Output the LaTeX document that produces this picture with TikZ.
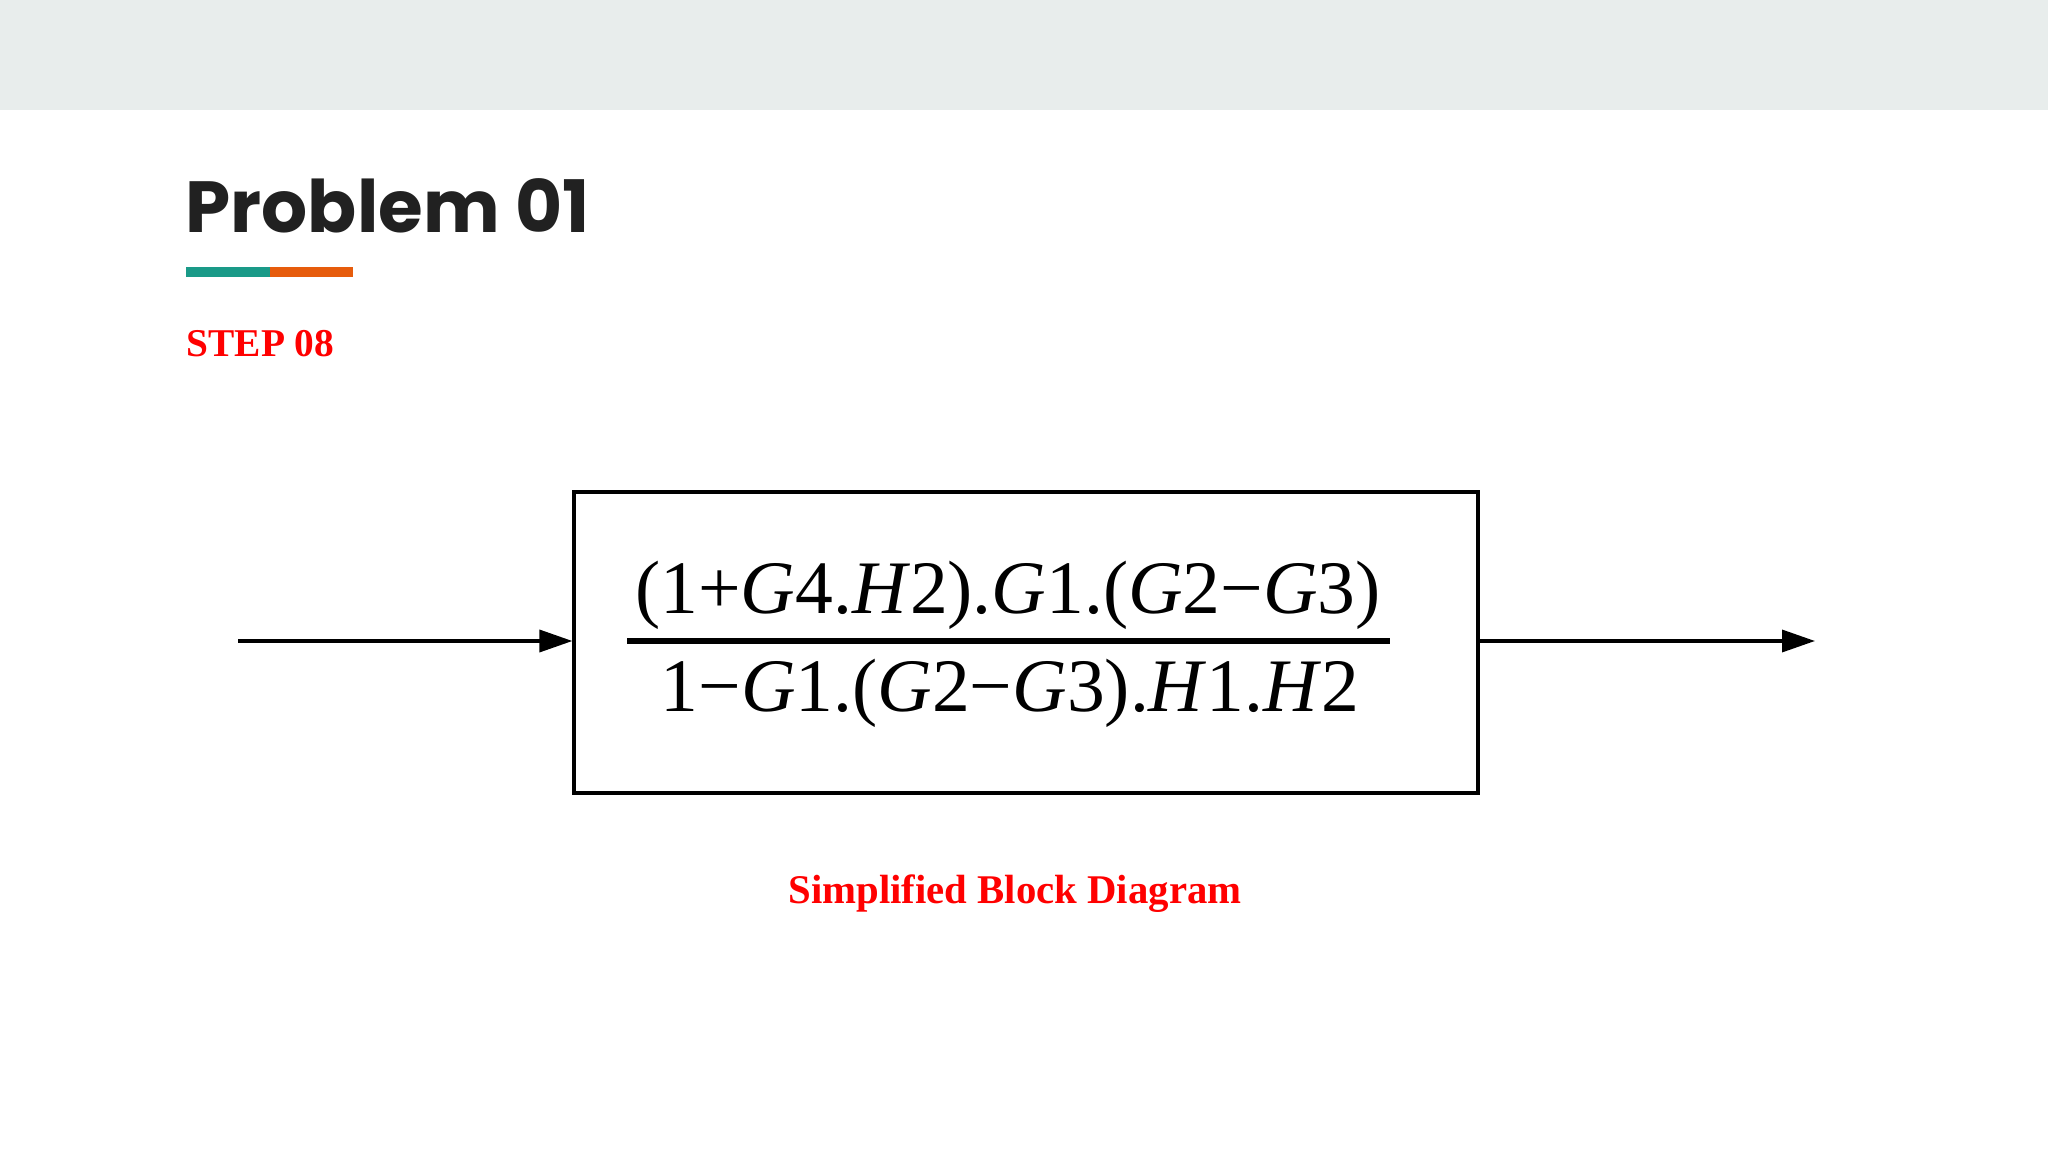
\documentclass[tikz,border=0pt]{standalone}
\usepackage{fontspec}
\setmainfont{Liberation Serif}
\newfontfamily\titlefont{Poppins}
\usetikzlibrary{arrows.meta}
\definecolor{bandgray}{HTML}{E8EDEC}
\definecolor{titlegray}{HTML}{212121}
\definecolor{barteal}{HTML}{1A9A88}
\definecolor{barorange}{HTML}{E65C0C}
\definecolor{stepred}{HTML}{FF0000}
\begin{document}
\begin{tikzpicture}[font=\rmfamily,
     arrowline/.style={line width=1pt, -{Triangle[length=0.33cm, width=0.22cm]}},
     blockbox/.style={draw, line width=0.9pt, minimum width=9.04cm, minimum height=3.01cm, inner sep=0},
     fracpart/.style={inner sep=0, anchor=base, font=\fontsize{21.5}{24}\selectfont},
     redlabel/.style={inner sep=0, text=stepred, font=\bfseries}]
\useasboundingbox (0,0) rectangle (20.48,-11.52);
\fill[white] (0,0) rectangle (20.48,-11.52);
\fill[bandgray] (0,0) rectangle (20.48,-1.10);
% heading
\node[inner sep=0, anchor=base west, text=titlegray,
      font=\titlefont\bfseries\fontsize{20.6}{24}\selectfont] (title) at (1.85,-2.33) {Problem 01};
\fill[barteal] (1.86,-2.67) rectangle (2.70,-2.77);
\fill[barorange] (2.70,-2.67) rectangle (3.53,-2.77);
\node[redlabel, anchor=base west, font=\bfseries\fontsize{11.2}{13}\selectfont] (step) at (1.86,-3.57) {STEP 08};
% block
\node[blockbox] (block) at (10.26,-6.425) {};
\node[fracpart] (num) at (10.08,-6.14) {(1+\textit{G}4.\textit{H}2).\textit{G}1.(\textit{G}2−\textit{G}3)};
\node[fracpart] (den) at (10.10,-7.12) {1−\textit{G}1.(\textit{G}2−\textit{G}3).\textit{H}1.\textit{H}2};
\coordinate (barl) at (6.27,-6.41);
\coordinate (barr) at (13.90,-6.41);
\draw[line width=1.5pt] (barl) -- (barr);
\coordinate (in) at (2.38,-6.41);
\coordinate (out) at (18.15,-6.41);
\draw[arrowline] (in) -- (block.west |- in);
\draw[arrowline] (block.east |- out) -- (out);
\node[redlabel, anchor=base, font=\bfseries\fontsize{11.6}{14}\selectfont] (caption) at (10.15,-9.03) {Simplified Block Diagram};
\end{tikzpicture}
\end{document}
